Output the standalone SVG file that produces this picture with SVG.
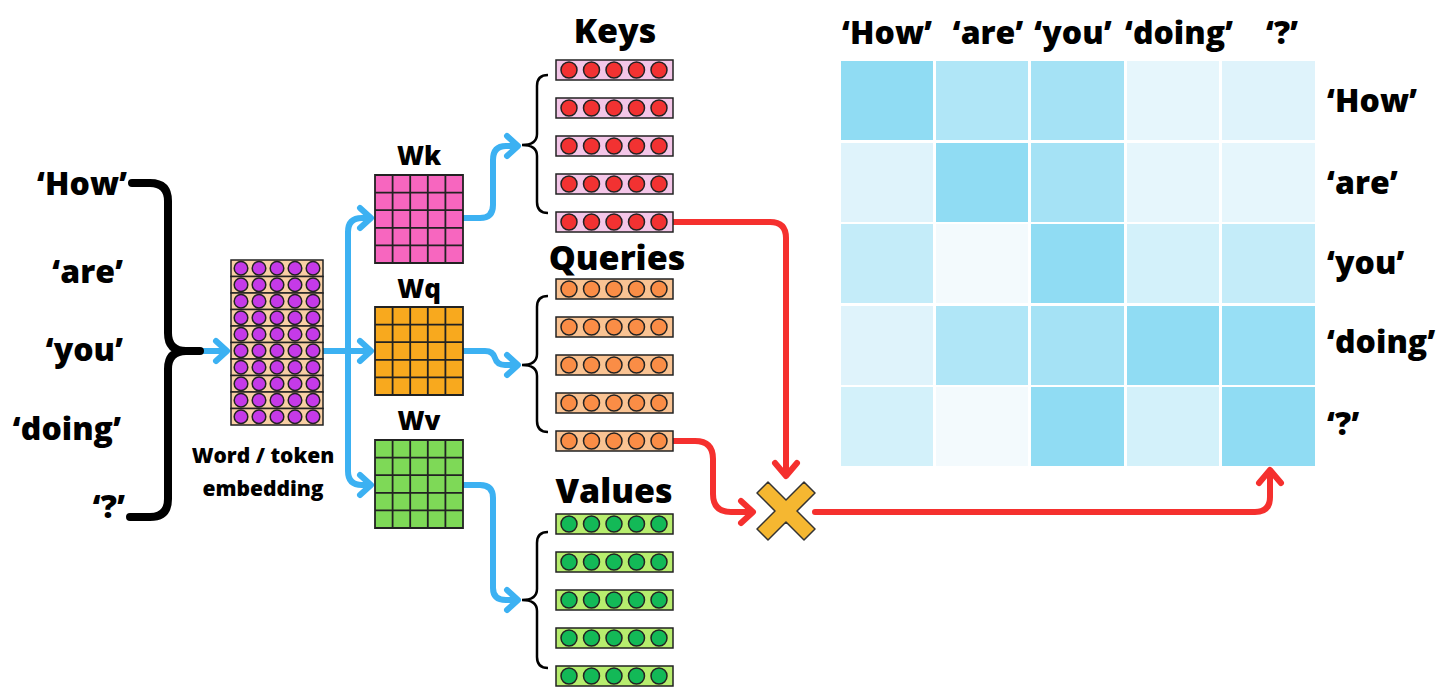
<svg xmlns="http://www.w3.org/2000/svg" width="1456" height="688" viewBox="0 0 1456 688">
<style>
text{font-family:"Open Sans","Lato","Liberation Sans",sans-serif;font-weight:800;fill:#000}
.w{font-size:32px}.t{font-size:34px}.m{font-size:26px}.s{font-size:21px}
.blue{fill:none;stroke:#3cb1f2;stroke-width:6;stroke-linecap:round;stroke-linejoin:round}
.red{fill:none;stroke:#f5302e;stroke-width:6;stroke-linecap:round;stroke-linejoin:round}
.br{fill:none;stroke:#000;stroke-width:2.5}
.g{stroke:#222;stroke-width:1.5}
</style>
<defs>
<g id="kr"><rect x="0" y="0" width="117" height="20" fill="#f4c6e8" class="g"/><g fill="#f23232" class="g"><circle cx="13" cy="10" r="8"/><circle cx="35.5" cy="10" r="8"/><circle cx="58" cy="10" r="8"/><circle cx="80.5" cy="10" r="8"/><circle cx="103" cy="10" r="8"/></g></g>
<g id="qr"><rect x="0" y="0" width="117" height="20" fill="#f9c393" class="g"/><g fill="#fa8d46" class="g"><circle cx="13" cy="10" r="8"/><circle cx="35.5" cy="10" r="8"/><circle cx="58" cy="10" r="8"/><circle cx="80.5" cy="10" r="8"/><circle cx="103" cy="10" r="8"/></g></g>
<g id="vr"><rect x="0" y="0" width="117" height="20" fill="#b7ed6e" class="g"/><g fill="#13b957" class="g"><circle cx="13" cy="10" r="8"/><circle cx="35.5" cy="10" r="8"/><circle cx="58" cy="10" r="8"/><circle cx="80.5" cy="10" r="8"/><circle cx="103" cy="10" r="8"/></g></g>
<g id="er"><rect x="0" y="0" width="92" height="16.5" fill="#f8cfa4" class="g"/><g fill="#c53ae8" class="g"><circle cx="10" cy="8.25" r="6.8"/><circle cx="28" cy="8.25" r="6.8"/><circle cx="46" cy="8.25" r="6.8"/><circle cx="64" cy="8.25" r="6.8"/><circle cx="82" cy="8.25" r="6.8"/></g></g>
<path id="grid" d="M0 0H88V88H0Z M17.6 0V88 M35.2 0V88 M52.8 0V88 M70.4 0V88 M0 17.6H88 M0 35.2H88 M0 52.8H88 M0 70.4H88" stroke="#222" stroke-width="1.8"/>
</defs>

<g id="connectors">
<path class="blue" d="M200 351H226 M216 341L227 351L216 361"/>
<path class="blue" d="M323 351H370 M360 341L371 351L360 361"/>
<path class="blue" d="M348 351V232Q348 218 362 218H370 M360 208L371 218L360 228"/>
<path class="blue" d="M348 351V471Q348 485 362 485H370 M360 475L371 485L360 495"/>
<path class="blue" d="M463 218H480Q493 218 493 205V160Q493 146 506 146H517 M507 136L518 146L507 156"/>
<path class="blue" d="M463 351H485Q493 351 495 358Q497 365 505 365H517 M507 355L518 365L507 375"/>
<path class="blue" d="M463 485H480Q493 485 493 498V588Q493 600 506 600H517 M507 590L518 600L507 610"/>
<path class="red" d="M673 222H770Q786 222 786 238V475 M775 463L786 476L797 463"/>
<path class="red" d="M673 441H695Q713 441 713 459V494Q713 512 731 512H752 M741 501L753 512L741 523"/>
<path class="red" d="M815 512H1255Q1270 512 1270 497V472 M1259 483L1270 470L1281 483"/>
<path d="M132 183H150Q168 183 168 201V333Q168 351 186 351H200 M186 351Q168 351 168 369V499Q168 517 150 517H130" fill="none" stroke="#000" stroke-width="8" stroke-linecap="round"/>
<path class="br" d="M548 75Q537 75 537 86V134Q537 145 522 145Q537 145 537 156V202Q537 213 548 213"/>
<path class="br" d="M548 296Q537 296 537 307V354Q537 365 522 365Q537 365 537 376V421Q537 432 548 432"/>
<path class="br" d="M548 532Q537 532 537 543V589Q537 600 522 600Q537 600 537 611V657Q537 668 548 668"/>
</g>

<g id="tokens">
<text class="w" x="127" y="195" text-anchor="end">‘How’</text>
<text class="w" x="123" y="283" text-anchor="end">‘are’</text>
<text class="w" x="123" y="361" text-anchor="end">‘you’</text>
<text class="w" x="121" y="440" text-anchor="end">‘doing’</text>
<text class="w" x="125" y="518" text-anchor="end">‘?’</text>
</g>

<g id="embedding">
<use href="#er" x="231" y="260"/><use href="#er" x="231" y="276.5"/><use href="#er" x="231" y="293"/><use href="#er" x="231" y="309.5"/><use href="#er" x="231" y="326"/><use href="#er" x="231" y="342.5"/><use href="#er" x="231" y="359"/><use href="#er" x="231" y="375.5"/><use href="#er" x="231" y="392"/><use href="#er" x="231" y="408.5"/>
<text class="s" x="263" y="463" text-anchor="middle">Word / token</text>
<text class="s" x="263" y="496" text-anchor="middle">embedding</text>
</g>

<g id="wk"><text class="m" x="419" y="165" text-anchor="middle">Wk</text><g transform="translate(375,175)" fill="#f766bf"><use href="#grid"/></g></g>
<g id="wq"><text class="m" x="419" y="298" text-anchor="middle">Wq</text><g transform="translate(375,307)" fill="#f8a91e"><use href="#grid"/></g></g>
<g id="wv"><text class="m" x="419" y="430" text-anchor="middle">Wv</text><g transform="translate(375,440)" fill="#7ed957"><use href="#grid"/></g></g>

<g id="keys"><text class="t" x="615" y="43" text-anchor="middle">Keys</text>
<use href="#kr" x="556" y="60"/><use href="#kr" x="556" y="98"/><use href="#kr" x="556" y="136"/><use href="#kr" x="556" y="174"/><use href="#kr" x="556" y="212"/></g>
<g id="queries"><text class="t" x="617" y="270" text-anchor="middle">Queries</text>
<use href="#qr" x="556" y="279"/><use href="#qr" x="556" y="317"/><use href="#qr" x="556" y="355"/><use href="#qr" x="556" y="393"/><use href="#qr" x="556" y="431"/></g>
<g id="values"><text class="t" x="614" y="503" text-anchor="middle">Values</text>
<use href="#vr" x="556" y="514"/><use href="#vr" x="556" y="552"/><use href="#vr" x="556" y="590"/><use href="#vr" x="556" y="628"/><use href="#vr" x="556" y="666"/></g>

<g id="multiply"><path d="M757 493L768 482L786 500L804 482L815 493L797 511L815 529L804 540L786 522L768 540L757 529L775 511Z" fill="#f5b731" stroke="#333" stroke-width="1.5" stroke-linejoin="round"/></g>

<g id="attention">
<g>
<rect x="841" y="61" width="92" height="79" fill="#90dcf3"/><rect x="936" y="61" width="92" height="79" fill="#b0e6f7"/><rect x="1031" y="61" width="93" height="79" fill="#a5e2f5"/><rect x="1127" y="61" width="92" height="79" fill="#e6f6fc"/><rect x="1222" y="61" width="93" height="79" fill="#dff3fb"/>
<rect x="841" y="143" width="92" height="79" fill="#dff3fb"/><rect x="936" y="143" width="92" height="79" fill="#90dcf3"/><rect x="1031" y="143" width="93" height="79" fill="#a5e2f5"/><rect x="1127" y="143" width="92" height="79" fill="#e6f6fc"/><rect x="1222" y="143" width="93" height="79" fill="#e6f6fc"/>
<rect x="841" y="224" width="92" height="79" fill="#c4ecf9"/><rect x="936" y="224" width="92" height="79" fill="#f3fafd"/><rect x="1031" y="224" width="93" height="79" fill="#90dcf3"/><rect x="1127" y="224" width="92" height="79" fill="#d3f1fa"/><rect x="1222" y="224" width="93" height="79" fill="#c4ecf9"/>
<rect x="841" y="306" width="92" height="79" fill="#dff3fb"/><rect x="936" y="306" width="92" height="79" fill="#b0e6f7"/><rect x="1031" y="306" width="93" height="79" fill="#a5e2f5"/><rect x="1127" y="306" width="92" height="79" fill="#90dcf3"/><rect x="1222" y="306" width="93" height="79" fill="#98dff5"/>
<rect x="841" y="387" width="92" height="79" fill="#d3f1fa"/><rect x="936" y="387" width="92" height="79" fill="#f3fafd"/><rect x="1031" y="387" width="93" height="79" fill="#90dcf3"/><rect x="1127" y="387" width="92" height="79" fill="#d3f1fa"/><rect x="1222" y="387" width="93" height="79" fill="#90dcf3"/>
</g>
<text class="w" x="887" y="44" text-anchor="middle">‘How’</text>
<text class="w" x="988" y="44" text-anchor="middle">‘are’</text>
<text class="w" x="1073" y="44" text-anchor="middle">‘you’</text>
<text class="w" x="1179" y="44" text-anchor="middle">‘doing’</text>
<text class="w" x="1282" y="44" text-anchor="middle">‘?’</text>
<text class="w" x="1327" y="112">‘How’</text>
<text class="w" x="1327" y="194">‘are’</text>
<text class="w" x="1327" y="274">‘you’</text>
<text class="w" x="1327" y="353">‘doing’</text>
<text class="w" x="1327" y="435">‘?’</text>
</g>
</svg>
